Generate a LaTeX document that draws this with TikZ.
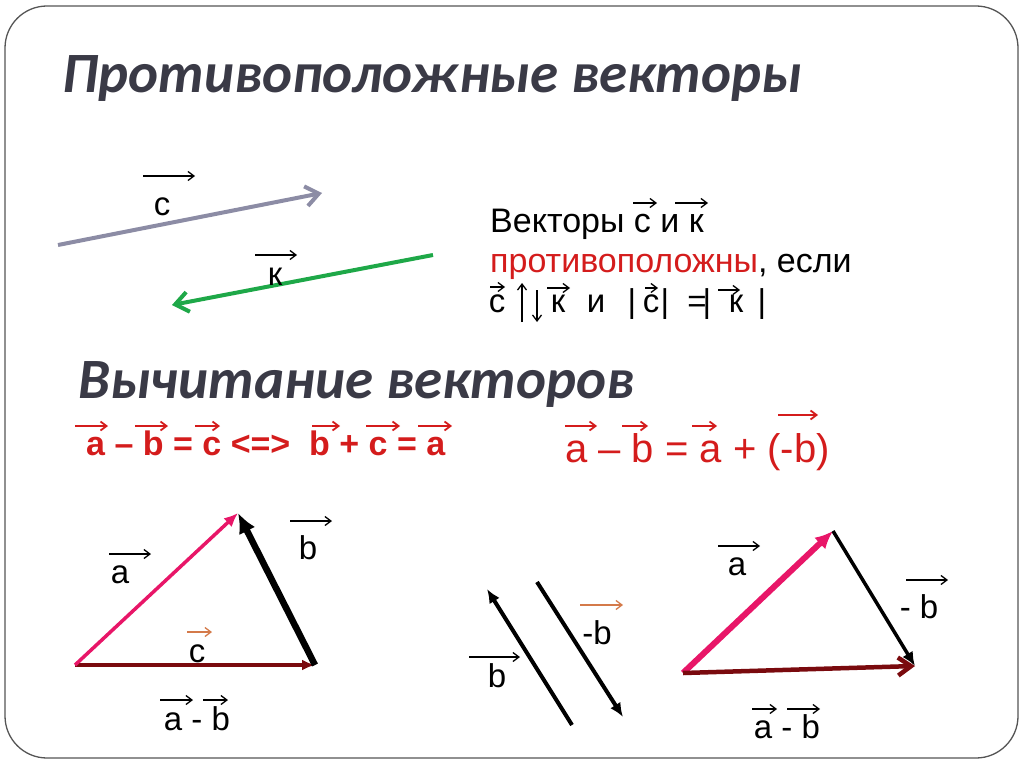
\documentclass[tikz,border=0pt]{standalone}
\usepackage{fontspec}
\setmainfont{Liberation Sans}
\newfontfamily\headfont{Carlito}
\usetikzlibrary{arrows.meta,calc}

\definecolor{framegray}{RGB}{85,85,85}
\definecolor{headgray}{RGB}{58,58,70}
\definecolor{vecgray}{RGB}{140,140,165}
\definecolor{vecgreen}{RGB}{30,168,72}
\definecolor{vecpink}{RGB}{232,22,104}
\definecolor{vecdark}{RGB}{122,10,14}
\definecolor{txtred}{RGB}{212,28,28}
\definecolor{ovlorange}{RGB}{212,122,74}

\tikzstyle{head} = [anchor=base west, inner sep=0pt, text=headgray, font=\headfont\bfseries\itshape\fontsize{57}{63}\selectfont]
\tikzstyle{txt} = [anchor=base west, inner sep=0pt, font=\fontsize{34}{40}\selectfont]
\tikzstyle{lbl} = [anchor=base, inner sep=0pt, font=\fontsize{33}{39}\selectfont]
\tikzstyle{ovl} = [draw, line width=1.3pt, -{Straight Barb[length=6pt,width=9pt]}]
\tikzstyle{redovl} = [ovl, draw=txtred, line width=1.8pt]
\tikzstyle{barbvec} = [draw, line width=4pt, -{Straight Barb[length=13pt,width=20pt]}]
\tikzstyle{vecline} = [draw, line width=4pt, -{Latex[length=14pt,width=12pt]}]

\begin{document}
\begin{tikzpicture}[x=1pt, y=-1pt]
    \useasboundingbox (0,0) rectangle (1024,767);
    \draw[framegray, line width=1.3pt, rounded corners=42pt] (5,6) rectangle (1018,758);

    % headings
    \node[head] (title) at (62,93) {Противоположные векторы};
    \node[head] (title2) at (78,398) {Вычитание векторов};

    % opposite vectors c and k
    \coordinate (c0) at (58,245);
    \coordinate (c1) at (322,193);
    \coordinate (k0) at (433,255);
    \coordinate (k1) at (172,305);
    \path[barbvec, draw=vecgray] (c0) -- (c1);
    \path[barbvec, draw=vecgreen] (k0) -- (k1);
    \node[lbl] (lc) at (162,216) {c};
    \node[lbl] (lk) at (275,285) {к};
    \draw[ovl] (lc.base) +(-19,-40) -- +(33,-40);
    \draw[ovl] (lk.base) +(-20,-30) -- +(22,-30);

    % definition text
    \node[txt] (t1) at (490,233) {Векторы с и к};
    \node[txt] (t2) at (490,272) {\textcolor{txtred}{противоположны}, если};
    \draw[ovl] (t1.base west) +(143,-30) -- +(167,-30);
    \draw[ovl] (t1.base west) +(185,-30) -- +(218,-30);
    \node[lbl] (s1) at (497,312) {с};
    \coordinate (up0) at (522,322);
    \coordinate (up1) at (522,283);
    \coordinate (dn0) at (537,290);
    \coordinate (dn1) at (537,322);
    \path[ovl] (up0) -- (up1);
    \path[ovl] (dn0) -- (dn1);
    \node[lbl] (k2) at (558,312) {к};
    \node[lbl] (i2) at (596,312) {и};
    \node[lbl] (bar1) at (632,312) {|};
    \node[lbl] (s3) at (651,312) {с};
    \node[lbl] (bar2) at (665,312) {|};
    \node[lbl] (eq3) at (697,312) {=};
    \node[lbl] (bar3) at (707,312) {|};
    \node[lbl] (k3) at (736,312) {к};
    \node[lbl] (bar4) at (762,312) {|};
    \draw[ovl] (s1.base) +(-7,-25) -- +(8,-25);
    \draw[ovl] (k2.base) +(-11,-24) -- +(12,-24);
    \draw[ovl] (s3.base) +(-6,-24) -- +(7,-24);
    \draw[ovl] (k3.base) +(-18,-22) -- +(4,-22);

    % formulas
    \node[txt, text=txtred, font=\bfseries\fontsize{34}{40}\selectfont] (f1) at (86,455) {a – b = c <=>\ \ b + c = a};
    \draw[redovl] (f1.base west) +(-11,-29) -- +(22,-29);
    \draw[redovl] (f1.base west) +(49,-29) -- +(82,-29);
    \draw[redovl] (f1.base west) +(109,-29) -- +(134,-29);
    \draw[redovl] (f1.base west) +(226,-29) -- +(254,-29);
    \draw[redovl] (f1.base west) +(280,-29) -- +(314,-29);
    \draw[redovl] (f1.base west) +(332,-29) -- +(366,-29);
    \node[txt, text=txtred, font=\fontsize{40}{46}\selectfont] (f2) at (565,462) {a – b = a + (-b)};
    \draw[redovl] (f2.base west) +(0,-36) -- +(32,-36);
    \draw[redovl] (f2.base west) +(57,-36) -- +(83,-36);
    \draw[redovl] (f2.base west) +(127,-36) -- +(152,-36);
    \draw[redovl] (f2.base west) +(213,-47) -- +(253,-47);

    % left triangle
    \coordinate (A) at (75,665);
    \coordinate (B) at (238,513);
    \coordinate (C) at (315,665);
    \path[vecline, draw=vecdark, -{Latex[length=13pt,width=11pt]}] (A) -- (C);
    \path[vecline, draw=vecpink, line width=3.5pt] (A) -- (B);
    \path[vecline, draw=black, line width=6.5pt, -{Latex[length=20pt,width=18pt]}] (C) -- (B);
    \node[lbl] (la1) at (120,583) {a};
    \node[lbl] (lb1) at (308,559) {b};
    \node[lbl] (lc1) at (197,662) {c};
    \node[lbl] (lab1) at (197,730) {a - b};
    \draw[ovl] (la1.base) +(-11,-29) -- +(31,-29);
    \draw[ovl] (lb1.base) +(-18,-38) -- +(24,-38);
    \draw[ovl, draw=ovlorange] (lc1.base) +(-10,-30) -- +(15,-30);
    \draw[ovl] (lab1.base) +(-37,-30) -- +(-4,-30);
    \draw[ovl] (lab1.base) +(6,-30) -- +(31,-30);

    % b and -b
    \coordinate (b0) at (572,725);
    \coordinate (b1) at (487,589);
    \coordinate (m0) at (537,582);
    \coordinate (m1) at (623,717);
    \path[vecline] (b0) -- (b1);
    \path[vecline] (m0) -- (m1);
    \node[lbl] (lb2) at (497,687) {b};
    \node[lbl] (lm2) at (597,644) {-b};
    \draw[ovl] (lb2.base) +(-28,-30) -- +(23,-30);
    \draw[ovl, draw=ovlorange] (lm2.base) +(-17,-39) -- +(26,-39);

    % right triangle
    \coordinate (P) at (683,673);
    \coordinate (Q) at (833,531);
    \coordinate (R) at (915,666);
    \path[vecline, draw=vecpink, line width=6pt, -{Latex[length=18pt,width=16pt]}] (P) -- (Q);
    \path[vecline, draw=black, line width=3.5pt, -{Latex[length=14pt,width=12pt]}] (Q) -- (R);
    \path[barbvec, draw=vecdark, line width=4.5pt, -{Straight Barb[length=13pt,width=18pt]}] (P) -- (R);
    \node[lbl] (la3) at (737,575) {a};
    \node[lbl] (lm3) at (919,618) {- b};
    \node[lbl] (lab3) at (787,738) {a - b};
    \draw[ovl] (la3.base) +(-19,-29) -- +(23,-29);
    \draw[ovl] (lm3.base) +(-13,-38) -- +(29,-38);
    \draw[ovl] (lab3.base) +(-35,-29) -- +(-10,-29);
    \draw[ovl] (lab3.base) +(0,-29) -- +(33,-29);
\end{tikzpicture}
\end{document}
